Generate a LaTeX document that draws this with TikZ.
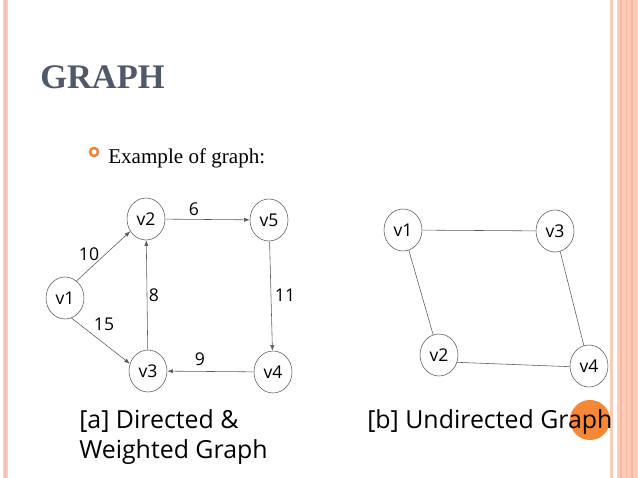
\documentclass[tikz,border=0pt]{standalone}
\usepackage{fontspec}
\setmainfont{Liberation Serif}
\newfontfamily\diafont{Open Sans}
\usetikzlibrary{shapes.geometric,arrows.meta}
\definecolor{slate}{RGB}{80,89,105}
\definecolor{salmon}{RGB}{251,204,186}
\definecolor{salmondk}{RGB}{247,182,160}
\definecolor{bulletor}{RGB}{240,128,48}
\definecolor{blob}{RGB}{245,135,55}
\definecolor{edgegray}{RGB}{90,90,90}
\tikzset{
	vx/.style={ellipse,draw=edgegray,line width=0.4pt,minimum width=0.95cm,minimum height=1.05cm,inner sep=0pt,font=\diafont\fontsize{12.5}{14}\selectfont},
	wt/.style={inner sep=1pt,font=\diafont\fontsize{12.5}{14}\selectfont},
	arc/.style={draw=edgegray,line width=0.4pt,-{Latex[length=4pt,width=3pt]}},
	link/.style={draw=edgegray,line width=0.4pt},
	captext/.style={anchor=base west,inner sep=0pt,font=\diafont\fontsize{17.7}{22}\selectfont}
}

\begin{document}
\begin{tikzpicture}[x=0.025cm,y=-0.025cm]
	\useasboundingbox (0,0) rectangle (638,478);
	% borders
	\fill[salmon] (3,0) rectangle (8,478);
	\fill[salmondk] (5,0) rectangle (6,478);
	\fill[salmon] (610,0) rectangle (613,478);
	\fill[salmon] (617,0) rectangle (638,478);
	\fill[salmondk] (620,0) rectangle (622,478);
	\fill[salmondk] (626,0) rectangle (627,478);
	\fill[salmondk] (631,0) rectangle (633,478);
	
	% heading
	\node[anchor=base west,inner sep=0pt,text=slate,font=\bfseries\fontsize{24.5}{28}\selectfont] (title) at (40,89) {GRAPH};
	\node[circle,draw=bulletor,line width=1.7pt,inner sep=0pt,minimum size=0.2cm] (bul) at (94,152) {};
	\node[anchor=base west,inner sep=0pt,font=\fontsize{15}{18}\selectfont] (intro) at (108,164) {Example of graph:};
	
	% [a] directed and weighted
	\node [vx] (a1) at (65,298) {v1};
	\node [vx] (a2) at (146,219) {v2};
	\node [vx] (a5) at (269,220) {v5};
	\node [vx] (a3) at (148,371) {v3};
	\node [vx] (a4) at (273,372) {v4};
	
	\draw[arc] (a1.56) -- (a2.218);
	\draw[arc] (a1.-72) -- (a3.158);
	\draw[arc] (a3) -- (a2);
	\draw[arc] (a2) -- (a5);
	\draw[arc] (a5) -- (a4);
	\draw[arc] (a4) -- (a3);
	
	\node [wt] (w10) at (89,254) {10};
	\node [wt] (w15) at (104,324) {15};
	\node [wt] (w8) at (154,295) {8};
	\node [wt] (w6) at (194,209) {6};
	\node [wt] (w11) at (285,295) {11};
	\node [wt] (w9) at (200,359) {9};
	
	% [b] undirected
	\node [vx] (b1) at (403,230) {v1};
	\node [vx] (b3) at (555,231) {v3};
	\node [vx] (b2) at (439,355) {v2};
	\node [vx] (b4) at (589,366) {v4};
	
	\draw[link] (b1) -- (b3);
	\draw[link] (b1) -- (b2);
	\draw[link] (b3) -- (b4);
	\draw[link] (b2.-22) -- (b4.182);
	
	% captions
	\node[circle,fill=blob,minimum size=1cm,inner sep=0pt] (spot) at (590,420) {};
	\node[captext] (capa) at (79,428) {[a] Directed \&};
	\node[captext] (capa2) at (79,458) {Weighted Graph};
	\node[captext] (capb) at (367,428) {[b] Undirected Graph};
\end{tikzpicture}
\end{document}
